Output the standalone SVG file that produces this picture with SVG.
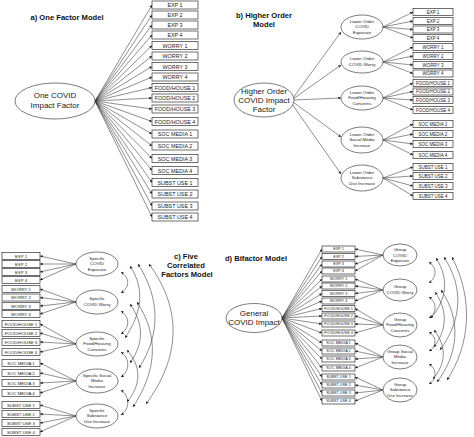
<svg xmlns="http://www.w3.org/2000/svg" width="474" height="437" viewBox="0 0 474 437">
<defs>
<marker id="ah" viewBox="0 0 6 6" markerWidth="5" markerHeight="5" refX="6" refY="3" orient="auto-start-reverse" markerUnits="strokeWidth"><path d="M0,0 L6,3 L0,6 z" fill="#222"/></marker>
<style>
.bx{fill:#fff;stroke:#333;stroke-width:0.7}
.el{fill:#fff;stroke:#444;stroke-width:0.7}
.t{font-family:"Liberation Sans",Arial,sans-serif;fill:#222;text-anchor:middle}
.ta{font-size:5.4px}
.tb{font-size:4.5px}
.tc{font-size:4.3px}
.td{font-size:3.8px}
.ti{font-family:"Liberation Sans",Arial,sans-serif;font-size:7.6px;font-weight:bold;fill:#111;text-anchor:middle}
.big{font-size:8px}
.sm{font-family:"Liberation Sans",Arial,sans-serif;font-size:4.4px}
.ln{stroke:#333;stroke-width:0.55;fill:none;marker-end:url(#ah)}
.cv{stroke:#333;stroke-width:0.55;fill:none;marker-start:url(#ah);marker-end:url(#ah)}
</style>
</defs>
<rect width="474" height="437" fill="#fff"/>

<g id="titles">
<text class="ti" x="67" y="20">a) One Factor Model</text>
<text class="ti" x="264" y="18">b) Higher Order</text>
<text class="ti" x="264" y="27">Model</text>
<text class="ti" x="186" y="259">c) Five</text>
<text class="ti" x="186" y="268">Correlated</text>
<text class="ti" x="187" y="277">Factors Model</text>
<text class="ti" x="256" y="261">d) Bifactor Model</text>
</g>

<g id="connectors">
<!-- panel a -->
<path class="ln" d="M95,101 L152,5"/><path class="ln" d="M95,101 L152,15"/><path class="ln" d="M95,101 L152,25"/><path class="ln" d="M95,101 L152,35"/>
<path class="ln" d="M95,101 L152,45.5"/><path class="ln" d="M95,101 L152,56"/><path class="ln" d="M95,101 L152,66.5"/><path class="ln" d="M95,101 L152,77"/>
<path class="ln" d="M95,101 L152,87.5"/><path class="ln" d="M95,101 L152,98"/><path class="ln" d="M95,101 L152,109"/><path class="ln" d="M95,101 L152,121.5"/>
<path class="ln" d="M95,101 L152,134"/><path class="ln" d="M95,101 L152,146"/><path class="ln" d="M95,101 L152,158.5"/><path class="ln" d="M95,101 L152,170.5"/>
<path class="ln" d="M95,101 L152,182.5"/><path class="ln" d="M95,101 L152,194"/><path class="ln" d="M95,101 L152,206"/><path class="ln" d="M95,101 L152,217"/>
<!-- panel b higher to lower -->
<path class="ln" d="M293,98 L341,32"/><path class="ln" d="M293,99 L341,65"/><path class="ln" d="M294,100 L341,98"/><path class="ln" d="M293,102 L341,137"/><path class="ln" d="M292,104 L341,174"/>
<!-- panel b lower to boxes -->
<path class="ln" d="M383,27 L413,12"/><path class="ln" d="M383,27 L413,21"/><path class="ln" d="M383,27 L413,29.5"/><path class="ln" d="M383,27 L413,38"/>
<path class="ln" d="M383,62 L413,47"/><path class="ln" d="M383,62 L413,56"/><path class="ln" d="M383,62 L413,65"/><path class="ln" d="M383,62 L413,73.5"/>
<path class="ln" d="M383,98 L413,83"/><path class="ln" d="M383,98 L413,91.5"/><path class="ln" d="M383,98 L413,100"/><path class="ln" d="M383,98 L413,110"/>
<path class="ln" d="M383,140 L413,124"/><path class="ln" d="M383,140 L413,134"/><path class="ln" d="M383,140 L413,144"/><path class="ln" d="M383,140 L413,155"/>
<path class="ln" d="M383,178 L413,167"/><path class="ln" d="M383,178 L413,176"/><path class="ln" d="M383,178 L413,186"/><path class="ln" d="M383,178 L413,196"/>
<!-- panel c -->
<path class="ln" d="M76,264 L40,256"/><path class="ln" d="M76,264 L40,264"/><path class="ln" d="M76,264 L40,272"/><path class="ln" d="M76,264 L40,280"/>
<path class="ln" d="M76,302 L40,289"/><path class="ln" d="M76,302 L40,297.5"/><path class="ln" d="M76,302 L40,306"/><path class="ln" d="M76,302 L40,314"/>
<path class="ln" d="M76,344 L40,324"/><path class="ln" d="M76,344 L40,333"/><path class="ln" d="M76,344 L40,342"/><path class="ln" d="M76,344 L40,352"/>
<path class="ln" d="M76,381 L40,363"/><path class="ln" d="M76,381 L40,373"/><path class="ln" d="M76,381 L40,383"/><path class="ln" d="M76,381 L40,393"/>
<path class="ln" d="M76,416 L40,405"/><path class="ln" d="M76,416 L40,414"/><path class="ln" d="M76,416 L40,423"/><path class="ln" d="M76,416 L40,432"/>
<!-- panel c correlations -->
<path class="cv" d="M121,272 C130,278 130,287 121,293"/>
<path class="cv" d="M130,266 C146,290 141,314 125,338"/>
<path class="cv" d="M138,264 C160,298 161,334 139,368"/>
<path class="cv" d="M149,264 C183,310 180,358 146,404"/>
<path class="cv" d="M121,311 C130,317 130,328 121,334"/>
<path class="cv" d="M130,304 C144,324 144,343 130,363"/>
<path class="cv" d="M137,302 C160,337 156,372 133,407"/>
<path class="cv" d="M121,352 C130,358 130,371 121,377"/>
<path class="cv" d="M127,350 C142,367 141,385 127,402"/>
<path class="cv" d="M121,390 C130,396 130,409 121,415"/>
<!-- panel d general -->
<path class="ln" d="M282,318 L322,249"/><path class="ln" d="M282,318 L322,256.5"/><path class="ln" d="M282,318 L322,264"/><path class="ln" d="M282,318 L322,271"/>
<path class="ln" d="M282,318 L322,279"/><path class="ln" d="M282,318 L322,286"/><path class="ln" d="M282,318 L322,293.5"/><path class="ln" d="M282,318 L322,301"/>
<path class="ln" d="M282,318 L322,308.5"/><path class="ln" d="M282,318 L322,316"/><path class="ln" d="M282,318 L322,324"/><path class="ln" d="M282,318 L322,333"/>
<path class="ln" d="M282,318 L322,343"/><path class="ln" d="M282,318 L322,351"/><path class="ln" d="M282,318 L322,359"/><path class="ln" d="M282,318 L322,368"/>
<path class="ln" d="M282,318 L322,377"/><path class="ln" d="M282,318 L322,385"/><path class="ln" d="M282,318 L322,393"/><path class="ln" d="M282,318 L322,401"/>
<!-- panel d group -->
<path class="ln" d="M383,255 L355,249"/><path class="ln" d="M383,255 L355,256.5"/><path class="ln" d="M383,255 L355,264"/><path class="ln" d="M383,255 L355,271"/>
<path class="ln" d="M383,290 L355,279"/><path class="ln" d="M383,290 L355,286"/><path class="ln" d="M383,290 L355,293.5"/><path class="ln" d="M383,290 L355,301"/>
<path class="ln" d="M383,325 L355,308.5"/><path class="ln" d="M383,325 L355,316"/><path class="ln" d="M383,325 L355,324"/><path class="ln" d="M383,325 L355,333"/>
<path class="ln" d="M383,357 L355,343"/><path class="ln" d="M383,357 L355,351"/><path class="ln" d="M383,357 L355,359"/><path class="ln" d="M383,357 L355,368"/>
<path class="ln" d="M383,390 L355,377"/><path class="ln" d="M383,390 L355,385"/><path class="ln" d="M383,390 L355,393"/><path class="ln" d="M383,390 L355,401"/>
<!-- panel d correlations -->
<path class="cv" d="M429,262 C437,268 437,277 429,283"/>
<path class="cv" d="M436,258 C450,280 446,300 431,318"/>
<path class="cv" d="M444,257 C464,288 462,320 440,350"/>
<path class="cv" d="M452,257 C474,300 470,345 447,380"/>
<path class="cv" d="M429,297 C437,302 437,313 429,318"/>
<path class="cv" d="M435,292 C448,310 447,330 434,347"/>
<path class="cv" d="M441,290 C462,320 458,355 437,382"/>
<path class="cv" d="M429,332 C437,337 437,347 429,351"/>
<path class="cv" d="M434,330 C447,346 446,364 433,379"/>
<path class="cv" d="M429,364 C437,369 437,379 429,384"/>
</g>

<!-- Panel a nodes -->
<g id="a-factor"><ellipse class="el" cx="55" cy="101" rx="40" ry="18"/><text class="t big" x="55" y="98">One COVID</text><text class="t big" x="55" y="108">Impact Factor</text></g>
<g id="a-exp1"><rect class="bx" x="152" y="1" width="46" height="8"/><text class="t ta" x="175" y="7">EXP 1</text></g>
<g id="a-exp2"><rect class="bx" x="152" y="11" width="46" height="8"/><text class="t ta" x="175" y="17">EXP 2</text></g>
<g id="a-exp3"><rect class="bx" x="152" y="21" width="46" height="8"/><text class="t ta" x="175" y="27">EXP 3</text></g>
<g id="a-exp4"><rect class="bx" x="152" y="31" width="46" height="8"/><text class="t ta" x="175" y="37">EXP 4</text></g>
<g id="a-wor1"><rect class="bx" x="152" y="41.5" width="46" height="8"/><text class="t ta" x="175" y="47.5">WORRY 1</text></g>
<g id="a-wor2"><rect class="bx" x="152" y="52" width="46" height="8"/><text class="t ta" x="175" y="58">WORRY 2</text></g>
<g id="a-wor3"><rect class="bx" x="152" y="62.5" width="46" height="8"/><text class="t ta" x="175" y="68.5">WORRY 3</text></g>
<g id="a-wor4"><rect class="bx" x="152" y="73" width="46" height="8"/><text class="t ta" x="175" y="79">WORRY 4</text></g>
<g id="a-food1"><rect class="bx" x="152" y="83.5" width="46" height="8"/><text class="t ta" x="175" y="89.5">FOOD/HOUSE 1</text></g>
<g id="a-food2"><rect class="bx" x="152" y="94" width="46" height="8"/><text class="t ta" x="175" y="100">FOOD/HOUSE 2</text></g>
<g id="a-food3"><rect class="bx" x="152" y="105" width="46" height="8"/><text class="t ta" x="175" y="111">FOOD/HOUSE 3</text></g>
<g id="a-food4"><rect class="bx" x="152" y="117.5" width="46" height="8"/><text class="t ta" x="175" y="123.5">FOOD/HOUSE 4</text></g>
<g id="a-soc1"><rect class="bx" x="152" y="130" width="46" height="8"/><text class="t ta" x="175" y="136">SOC MEDIA 1</text></g>
<g id="a-soc2"><rect class="bx" x="152" y="142" width="46" height="8"/><text class="t ta" x="175" y="148">SOC MEDIA 2</text></g>
<g id="a-soc3"><rect class="bx" x="152" y="154.5" width="46" height="8"/><text class="t ta" x="175" y="160.5">SOC MEDIA 3</text></g>
<g id="a-soc4"><rect class="bx" x="152" y="166.5" width="46" height="8"/><text class="t ta" x="175" y="172.5">SOC MEDIA 4</text></g>
<g id="a-sub1"><rect class="bx" x="152" y="178.5" width="46" height="8"/><text class="t ta" x="175" y="184.5">SUBST USE 1</text></g>
<g id="a-sub2"><rect class="bx" x="152" y="190" width="46" height="8"/><text class="t ta" x="175" y="196">SUBST USE 2</text></g>
<g id="a-sub3"><rect class="bx" x="152" y="202" width="46" height="8"/><text class="t ta" x="175" y="208">SUBST USE 3</text></g>
<g id="a-sub4"><rect class="bx" x="152" y="213" width="46" height="8"/><text class="t ta" x="175" y="219">SUBST USE 4</text></g>

<!-- Panel b nodes -->
<g id="b-higher"><ellipse class="el" cx="264" cy="100" rx="30" ry="17"/><text class="t big" x="264" y="94">Higher Order</text><text class="t big" x="264" y="103">COVID Impact</text><text class="t big" x="264" y="112">Factor</text></g>
<g id="b-exp"><ellipse class="el" cx="362" cy="27" rx="21" ry="12"/><text class="t sm" x="362" y="22.5">Lower Order</text><text class="t sm" x="362" y="28">COVID</text><text class="t sm" x="362" y="33.5">Exposure</text></g>
<g id="b-wor"><ellipse class="el" cx="362" cy="62" rx="21" ry="11"/><text class="t sm" x="362" y="60">Lower Order</text><text class="t sm" x="362" y="65.5">COVID Worry</text></g>
<g id="b-food"><ellipse class="el" cx="362" cy="98" rx="21" ry="12"/><text class="t sm" x="362" y="93.5">Lower Order</text><text class="t sm" x="362" y="99">Food/Housing</text><text class="t sm" x="362" y="104.5">Concerns</text></g>
<g id="b-soc"><ellipse class="el" cx="362" cy="140" rx="21" ry="13"/><text class="t sm" x="362" y="135.5">Lower Order</text><text class="t sm" x="362" y="141">Social Media</text><text class="t sm" x="362" y="146.5">Increase</text></g>
<g id="b-sub"><ellipse class="el" cx="362" cy="178" rx="21" ry="13"/><text class="t sm" x="362" y="173.5">Lower Order</text><text class="t sm" x="362" y="179">Substance</text><text class="t sm" x="362" y="184.5">Use Increase</text></g>
<g id="b-exp1"><rect class="bx" x="413" y="8.5" width="40" height="7"/><text class="t tb" x="433" y="13.6">EXP 1</text></g>
<g id="b-exp2"><rect class="bx" x="413" y="17.5" width="40" height="7"/><text class="t tb" x="433" y="22.6">EXP 2</text></g>
<g id="b-exp3"><rect class="bx" x="413" y="26" width="40" height="7"/><text class="t tb" x="433" y="31.1">EXP 3</text></g>
<g id="b-exp4"><rect class="bx" x="413" y="34.5" width="40" height="7"/><text class="t tb" x="433" y="39.6">EXP 4</text></g>
<g id="b-wor1"><rect class="bx" x="413" y="43.5" width="40" height="7"/><text class="t tb" x="433" y="48.6">WORRY 1</text></g>
<g id="b-wor2"><rect class="bx" x="413" y="52.5" width="40" height="7"/><text class="t tb" x="433" y="57.6">WORRY 2</text></g>
<g id="b-wor3"><rect class="bx" x="413" y="61.5" width="40" height="7"/><text class="t tb" x="433" y="66.6">WORRY 3</text></g>
<g id="b-wor4"><rect class="bx" x="413" y="70" width="40" height="7"/><text class="t tb" x="433" y="75.1">WORRY 4</text></g>
<g id="b-food1"><rect class="bx" x="413" y="79.5" width="40" height="7"/><text class="t tb" x="433" y="84.6">FOOD/HOUSE 1</text></g>
<g id="b-food2"><rect class="bx" x="413" y="88" width="40" height="7"/><text class="t tb" x="433" y="93.1">FOOD/HOUSE 2</text></g>
<g id="b-food3"><rect class="bx" x="413" y="96.5" width="40" height="7"/><text class="t tb" x="433" y="101.6">FOOD/HOUSE 3</text></g>
<g id="b-food4"><rect class="bx" x="413" y="106.5" width="40" height="7"/><text class="t tb" x="433" y="111.6">FOOD/HOUSE 4</text></g>
<g id="b-soc1"><rect class="bx" x="413" y="120.5" width="40" height="7"/><text class="t tb" x="433" y="125.6">SOC MEDIA 1</text></g>
<g id="b-soc2"><rect class="bx" x="413" y="130.5" width="40" height="7"/><text class="t tb" x="433" y="135.6">SOC MEDIA 2</text></g>
<g id="b-soc3"><rect class="bx" x="413" y="140.5" width="40" height="7"/><text class="t tb" x="433" y="145.6">SOC MEDIA 3</text></g>
<g id="b-soc4"><rect class="bx" x="413" y="151.5" width="40" height="7"/><text class="t tb" x="433" y="156.6">SOC MEDIA 4</text></g>
<g id="b-sub1"><rect class="bx" x="413" y="163.5" width="40" height="7"/><text class="t tb" x="433" y="168.6">SUBST USE 1</text></g>
<g id="b-sub2"><rect class="bx" x="413" y="172.5" width="40" height="7"/><text class="t tb" x="433" y="177.6">SUBST USE 2</text></g>
<g id="b-sub3"><rect class="bx" x="413" y="182.5" width="40" height="7"/><text class="t tb" x="433" y="187.6">SUBST USE 3</text></g>
<g id="b-sub4"><rect class="bx" x="413" y="192.5" width="40" height="7"/><text class="t tb" x="433" y="197.6">SUBST USE 4</text></g>

<!-- Panel c nodes -->
<g id="c-exp"><ellipse class="el" cx="97" cy="264" rx="21" ry="12"/><text class="t sm" x="97" y="259.5">Specific</text><text class="t sm" x="97" y="265">COVID</text><text class="t sm" x="97" y="270.5">Exposure</text></g>
<g id="c-wor"><ellipse class="el" cx="97" cy="302" rx="21" ry="12"/><text class="t sm" x="97" y="300">Specific</text><text class="t sm" x="97" y="305.5">COVID Worry</text></g>
<g id="c-food"><ellipse class="el" cx="97" cy="344" rx="21" ry="12"/><text class="t sm" x="97" y="339.5">Specific</text><text class="t sm" x="97" y="345">Food/Housing</text><text class="t sm" x="97" y="350.5">Concerns</text></g>
<g id="c-soc"><ellipse class="el" cx="97" cy="381" rx="21" ry="12"/><text class="t sm" x="97" y="376.5">Specific Social</text><text class="t sm" x="97" y="382">Media</text><text class="t sm" x="97" y="387.5">Increase</text></g>
<g id="c-sub"><ellipse class="el" cx="97" cy="416" rx="21" ry="12"/><text class="t sm" x="97" y="411.5">Specific</text><text class="t sm" x="97" y="417">Substance</text><text class="t sm" x="97" y="422.5">Use Increase</text></g>
<g id="c-exp1"><rect class="bx" x="2" y="252.5" width="38" height="7"/><text class="t tc" x="21" y="257.6">EXP 1</text></g>
<g id="c-exp2"><rect class="bx" x="2" y="260.5" width="38" height="7"/><text class="t tc" x="21" y="265.6">EXP 2</text></g>
<g id="c-exp3"><rect class="bx" x="2" y="268.5" width="38" height="7"/><text class="t tc" x="21" y="273.6">EXP 3</text></g>
<g id="c-exp4"><rect class="bx" x="2" y="276.5" width="38" height="7"/><text class="t tc" x="21" y="281.6">EXP 4</text></g>
<g id="c-wor1"><rect class="bx" x="2" y="285.5" width="38" height="7"/><text class="t tc" x="21" y="290.6">WORRY 1</text></g>
<g id="c-wor2"><rect class="bx" x="2" y="294" width="38" height="7"/><text class="t tc" x="21" y="299.1">WORRY 2</text></g>
<g id="c-wor3"><rect class="bx" x="2" y="302.5" width="38" height="7"/><text class="t tc" x="21" y="307.6">WORRY 3</text></g>
<g id="c-wor4"><rect class="bx" x="2" y="310.5" width="38" height="7"/><text class="t tc" x="21" y="315.6">WORRY 4</text></g>
<g id="c-food1"><rect class="bx" x="2" y="320.5" width="38" height="7"/><text class="t tc" x="21" y="325.6">FOOD/HOUSE 1</text></g>
<g id="c-food2"><rect class="bx" x="2" y="329.5" width="38" height="7"/><text class="t tc" x="21" y="334.6">FOOD/HOUSE 2</text></g>
<g id="c-food3"><rect class="bx" x="2" y="338.5" width="38" height="7"/><text class="t tc" x="21" y="343.6">FOOD/HOUSE 3</text></g>
<g id="c-food4"><rect class="bx" x="2" y="348.5" width="38" height="7"/><text class="t tc" x="21" y="353.6">FOOD/HOUSE 4</text></g>
<g id="c-soc1"><rect class="bx" x="2" y="359.5" width="38" height="7"/><text class="t tc" x="21" y="364.6">SOC MEDIA 1</text></g>
<g id="c-soc2"><rect class="bx" x="2" y="369.5" width="38" height="7"/><text class="t tc" x="21" y="374.6">SOC MEDIA 2</text></g>
<g id="c-soc3"><rect class="bx" x="2" y="379.5" width="38" height="7"/><text class="t tc" x="21" y="384.6">SOC MEDIA 3</text></g>
<g id="c-soc4"><rect class="bx" x="2" y="389.5" width="38" height="7"/><text class="t tc" x="21" y="394.6">SOC MEDIA 4</text></g>
<g id="c-sub1"><rect class="bx" x="2" y="401.5" width="38" height="7"/><text class="t tc" x="21" y="406.6">SUBST USE 1</text></g>
<g id="c-sub2"><rect class="bx" x="2" y="410.5" width="38" height="7"/><text class="t tc" x="21" y="415.6">SUBST USE 2</text></g>
<g id="c-sub3"><rect class="bx" x="2" y="419.5" width="38" height="7"/><text class="t tc" x="21" y="424.6">SUBST USE 3</text></g>
<g id="c-sub4"><rect class="bx" x="2" y="428.5" width="38" height="7"/><text class="t tc" x="21" y="433.6">SUBST USE 4</text></g>

<!-- Panel d nodes -->
<g id="d-general"><ellipse class="el" cx="254" cy="318" rx="28" ry="14.5"/><text class="t big" x="254" y="316">General</text><text class="t big" x="254" y="324.5">COVID Impact</text></g>
<g id="d-exp"><ellipse class="el" cx="400" cy="255" rx="17" ry="11"/><text class="t sm" x="400" y="251">Group</text><text class="t sm" x="400" y="256.5">COVID</text><text class="t sm" x="400" y="262">Exposure</text></g>
<g id="d-wor"><ellipse class="el" cx="400" cy="290" rx="17" ry="11"/><text class="t sm" x="400" y="288">Group</text><text class="t sm" x="400" y="293.5">COVID Worry</text></g>
<g id="d-food"><ellipse class="el" cx="400" cy="325" rx="17" ry="12"/><text class="t sm" x="400" y="320.5">Group</text><text class="t sm" x="400" y="326">Food/Housing</text><text class="t sm" x="400" y="331.5">Concerns</text></g>
<g id="d-soc"><ellipse class="el" cx="400" cy="357" rx="17" ry="12"/><text class="t sm" x="400" y="352.5">Group Social</text><text class="t sm" x="400" y="358">Media</text><text class="t sm" x="400" y="363.5">Increase</text></g>
<g id="d-sub"><ellipse class="el" cx="400" cy="390" rx="17" ry="12"/><text class="t sm" x="400" y="385.5">Group</text><text class="t sm" x="400" y="391">Substance</text><text class="t sm" x="400" y="396.5">Use Increase</text></g>
<g id="d-exp1"><rect class="bx" x="322" y="246" width="33" height="6"/><text class="t td" x="338.5" y="250.4">EXP 1</text></g>
<g id="d-exp2"><rect class="bx" x="322" y="253.5" width="33" height="6"/><text class="t td" x="338.5" y="257.9">EXP 2</text></g>
<g id="d-exp3"><rect class="bx" x="322" y="261" width="33" height="6"/><text class="t td" x="338.5" y="265.4">EXP 3</text></g>
<g id="d-exp4"><rect class="bx" x="322" y="268" width="33" height="6"/><text class="t td" x="338.5" y="272.4">EXP 4</text></g>
<g id="d-wor1"><rect class="bx" x="322" y="276" width="33" height="6"/><text class="t td" x="338.5" y="280.4">WORRY 1</text></g>
<g id="d-wor2"><rect class="bx" x="322" y="283" width="33" height="6"/><text class="t td" x="338.5" y="287.4">WORRY 2</text></g>
<g id="d-wor3"><rect class="bx" x="322" y="290.5" width="33" height="6"/><text class="t td" x="338.5" y="294.9">WORRY 3</text></g>
<g id="d-wor4"><rect class="bx" x="322" y="298" width="33" height="6"/><text class="t td" x="338.5" y="302.4">WORRY 4</text></g>
<g id="d-food1"><rect class="bx" x="322" y="305.5" width="33" height="6"/><text class="t td" x="338.5" y="309.9">FOOD/HOUSE 1</text></g>
<g id="d-food2"><rect class="bx" x="322" y="313" width="33" height="6"/><text class="t td" x="338.5" y="317.4">FOOD/HOUSE 2</text></g>
<g id="d-food3"><rect class="bx" x="322" y="321" width="33" height="6"/><text class="t td" x="338.5" y="325.4">FOOD/HOUSE 3</text></g>
<g id="d-food4"><rect class="bx" x="322" y="330" width="33" height="6"/><text class="t td" x="338.5" y="334.4">FOOD/HOUSE 4</text></g>
<g id="d-soc1"><rect class="bx" x="322" y="340" width="33" height="6"/><text class="t td" x="338.5" y="344.4">SOC MEDIA 1</text></g>
<g id="d-soc2"><rect class="bx" x="322" y="348" width="33" height="6"/><text class="t td" x="338.5" y="352.4">SOC MEDIA 2</text></g>
<g id="d-soc3"><rect class="bx" x="322" y="356" width="33" height="6"/><text class="t td" x="338.5" y="360.4">SOC MEDIA 3</text></g>
<g id="d-soc4"><rect class="bx" x="322" y="365" width="33" height="6"/><text class="t td" x="338.5" y="369.4">SOC MEDIA 4</text></g>
<g id="d-sub1"><rect class="bx" x="322" y="374" width="33" height="6"/><text class="t td" x="338.5" y="378.4">SUBST USE 1</text></g>
<g id="d-sub2"><rect class="bx" x="322" y="382" width="33" height="6"/><text class="t td" x="338.5" y="386.4">SUBST USE 2</text></g>
<g id="d-sub3"><rect class="bx" x="322" y="390" width="33" height="6"/><text class="t td" x="338.5" y="394.4">SUBST USE 3</text></g>
<g id="d-sub4"><rect class="bx" x="322" y="398" width="33" height="6"/><text class="t td" x="338.5" y="402.4">SUBST USE 4</text></g>
</svg>
